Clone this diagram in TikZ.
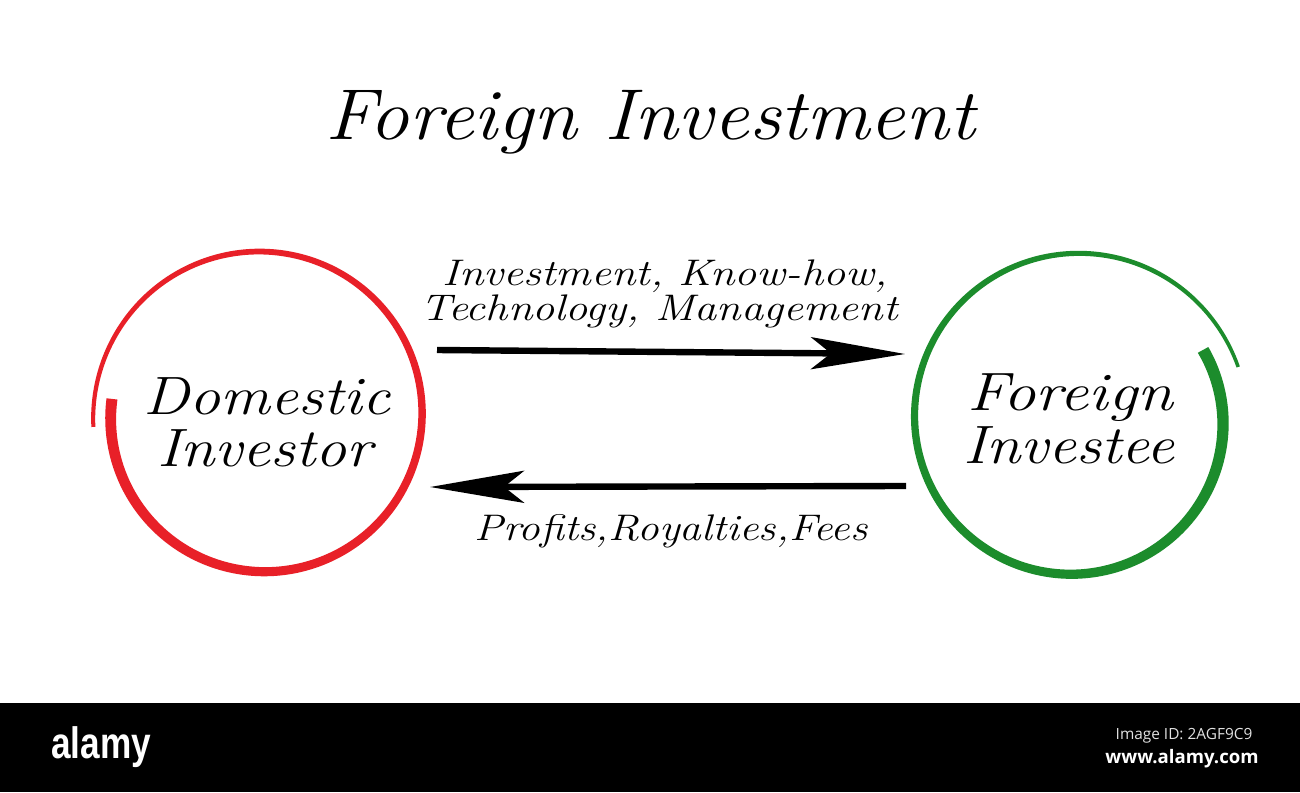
\documentclass[tikz,border=0pt]{standalone}
\usepackage{fontspec}
\newfontfamily\logofont{Liberation Sans}
\newfontfamily\wmfont{Open Sans}
\usetikzlibrary{arrows.meta}
\definecolor{ringred}{RGB}{232,32,40}
\definecolor{ringgreen}{RGB}{28,140,44}
\definecolor{wmgrey}{RGB}{225,225,225}
\begin{document}
\begin{tikzpicture}[x=0.5pt,y=-0.5pt,
  hand/.style={font=\itshape\fontsize{#1}{#1}\selectfont, inner sep=0pt, anchor=base, text=black},
  flow/.style={line width=3.2pt, -{Stealth[length=47pt,width=16pt,inset=10pt]}},
  declare function={
    fr(\t)=(\t-173.5)/370.2; rr(\t)=151+18*fr(\t); wr(\t)=11-7*fr(\t);
    fg(\t)=(28.7-\t)/370.7; rg(\t)=146+25.6*fg(\t); wg(\t)=12-8.5*fg(\t);
  }]
\useasboundingbox (0,0) rectangle (1300,792);
\fill[white] (0,0) rectangle (1300,792);

% title
\node[hand=36, xscale=1.1] (title) at (650,140) {Foreign Investment};

% red ring (Domestic Investor)
\fill[ringred]
  plot[domain=173.5:543.7, samples=160, smooth]
    ({262+(rr(\x)+wr(\x)/2)*cos(\x)}, {416-(rr(\x)+wr(\x)/2)*sin(\x)})
  -- plot[domain=543.7:173.5, samples=160, smooth]
    ({262+(rr(\x)-wr(\x)/2)*cos(\x)}, {416-(rr(\x)-wr(\x)/2)*sin(\x)})
  -- cycle;
\node[circle, minimum size=320pt, inner sep=0pt] (dom) at (262,416) {};
\node[hand=27, xscale=1.15] (dom1) at (267,414) {Domestic};
\node[hand=27, xscale=1.15] (dom2) at (265,466) {Investor};

% green ring (Foreign Investee)
\fill[ringgreen]
  plot[domain=28.7:-342, samples=160, smooth]
    ({1075+(rg(\x)+wg(\x)/2)*cos(\x)}, {420-(rg(\x)+wg(\x)/2)*sin(\x)})
  -- plot[domain=-342:28.7, samples=160, smooth]
    ({1075+(rg(\x)-wg(\x)/2)*cos(\x)}, {420-(rg(\x)-wg(\x)/2)*sin(\x)})
  -- cycle;
\node[circle, minimum size=320pt, inner sep=0pt] (fore) at (1075,420) {};
\node[hand=27, xscale=1.2] (for1) at (1070,410) {Foreign};
\node[hand=27, xscale=1.15] (for2) at (1069,463) {Investee};

% arrows
\coordinate (a1s) at (437,350);
\coordinate (a1e) at (905,354);
\coordinate (a2s) at (906,486);
\coordinate (a2e) at (430,487);
\draw[flow] (a1s) -- (a1e);
\draw[flow] (a2s) -- (a2e);

% arrow labels
\node[hand=18.5, xscale=1.2] (lab1a) at (665,285) {Investment, Know-how,};
\node[hand=18.5, xscale=1.2] (lab1b) at (659,320) {Technology, Management};
\node[hand=18.5, xscale=1.17] (lab2) at (671,540) {Profits,Royalties,Fees};

% watermark banner
\fill[black] (0,703) rectangle (1300,792);
\node[font=\logofont\bfseries\fontsize{22}{22}\selectfont, text=white, inner sep=0pt, anchor=base, xscale=0.8] (logo) at (101,758) {alamy};
\node[font=\wmfont\fontsize{7.7}{8}\selectfont, text=wmgrey, inner sep=0pt, anchor=base] (imgid) at (1184,739) {Image ID: 2AGF9C9};
\node[font=\wmfont\bfseries\fontsize{9.3}{10}\selectfont, text=white, inner sep=0pt, anchor=base] (url) at (1182,763) {www.alamy.com};
\end{tikzpicture}
\end{document}
